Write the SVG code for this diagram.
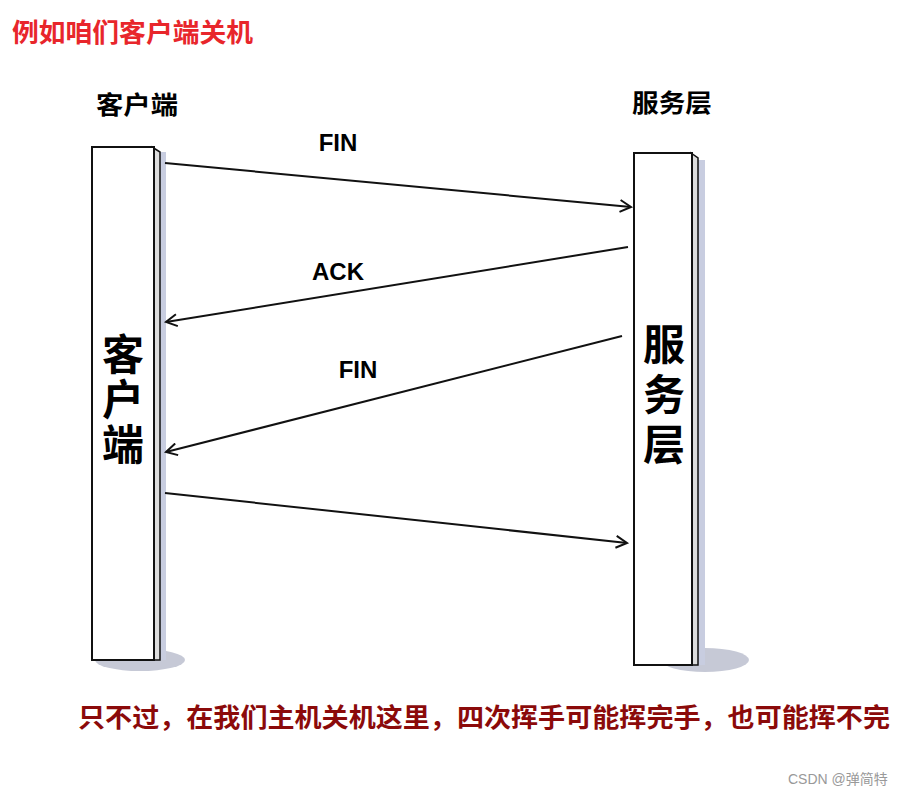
<svg xmlns="http://www.w3.org/2000/svg" width="910" height="794" viewBox="0 0 910 794">
<style>
text{font-family:"Liberation Sans","Noto Sans CJK SC",sans-serif;font-weight:bold}
.bar{fill:#fff;stroke:#111;stroke-width:2}
.side{fill:#ddd;stroke:#111;stroke-width:1.5}
.sh{fill:#b8bccc;opacity:.8}
.ln{stroke:#111;stroke-width:2;fill:none}
</style>
<defs><marker id="a" markerWidth="14" markerHeight="14" refX="12" refY="7" orient="auto" markerUnits="userSpaceOnUse"><path d="M1,1 L12,7 L1,13" fill="none" stroke="#111" stroke-width="2"/></marker></defs>
<rect width="910" height="794" fill="#fff"/>
<text x="12" y="42" font-size="26" fill="#e8262b" textLength="241" lengthAdjust="spacingAndGlyphs">例如咱们客户端关机</text>
<g id="client">
<ellipse class="sh" cx="140" cy="660" rx="45" ry="11"/>
<rect x="158" y="152" width="8" height="508" fill="#c8cde0"/>
<polygon class="side" points="152,147 160,152 160,660 152,660"/>
<rect class="bar" x="92" y="147" width="62" height="513"/>
<text x="96" y="114" font-size="25" textLength="82" lengthAdjust="spacingAndGlyphs">客户端</text>
<text x="123" y="370" font-size="42" text-anchor="middle">客</text>
<text x="123" y="415" font-size="42" text-anchor="middle">户</text>
<text x="123" y="460" font-size="42" text-anchor="middle">端</text>
</g>
<g id="server">
<ellipse class="sh" cx="705" cy="660" rx="44" ry="12"/>
<rect x="697" y="160" width="8" height="505" fill="#c8cde0"/>
<polygon class="side" points="691,153 698,158 698,665 691,665"/>
<rect class="bar" x="634" y="153" width="58" height="512"/>
<text x="632" y="112" font-size="25" textLength="80" lengthAdjust="spacingAndGlyphs">服务层</text>
<text x="664" y="360" font-size="42" text-anchor="middle">服</text>
<text x="664" y="410" font-size="42" text-anchor="middle">务</text>
<text x="664" y="460" font-size="42" text-anchor="middle">层</text>
</g>
<g id="connectors">
<line class="ln" x1="165" y1="163" x2="631" y2="207" marker-end="url(#a)"/>
<line class="ln" x1="628" y1="247" x2="166" y2="322" marker-end="url(#a)"/>
<line class="ln" x1="622" y1="336" x2="166" y2="452" marker-end="url(#a)"/>
<line class="ln" x1="165" y1="493" x2="627" y2="543" marker-end="url(#a)"/>
<text x="338" y="151" font-size="24" text-anchor="middle">FIN</text>
<text x="338" y="280" font-size="24" text-anchor="middle">ACK</text>
<text x="358" y="378" font-size="24" text-anchor="middle">FIN</text>
</g>
<text x="78" y="727" font-size="26" fill="#8b0a0a" textLength="812" lengthAdjust="spacingAndGlyphs">只不过，在我们主机关机这里，四次挥手可能挥完手，也可能挥不完</text>
<text x="788" y="784" font-size="14" fill="#999" style="font-weight:normal">CSDN @弹简特</text>
</svg>
